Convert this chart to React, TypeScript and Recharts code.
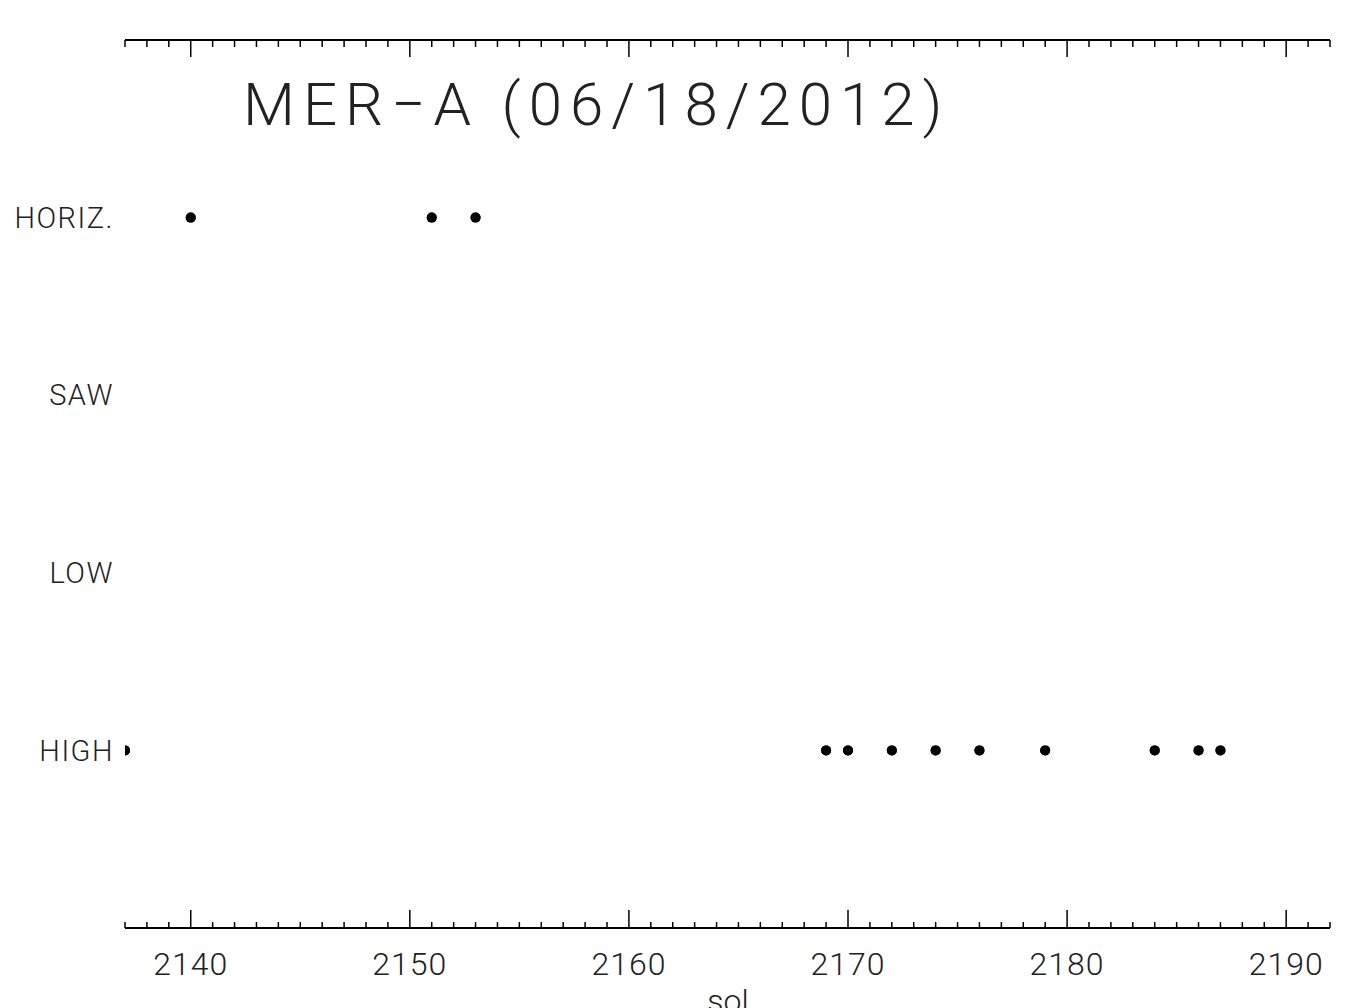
import { ScatterChart, Scatter, XAxis, YAxis } from "recharts";

// observing modes, bottom to top
const MODES = ["HIGH", "LOW", "SAW", "HORIZ."];
const HORIZ_SOLS = [2140, 2151, 2153];
const SAW_SOLS: number[] = [];
const LOW_SOLS: number[] = [];
const HIGH_SOLS = [2137, 2169, 2170, 2172, 2174, 2176, 2179, 2184, 2186, 2187];

const SOL_MIN = 2137;
const SOL_MAX = 2192;
const SOL_TICKS = Array.from({ length: SOL_MAX - SOL_MIN + 1 }, (_, i) => SOL_MIN + i);

const FONT = "Roboto, 'Liberation Sans', sans-serif";
const INK = "#000";
const TXT = "#222";

const toPoints = (sols: number[], level: number) => sols.map((sol) => ({ sol, level }));
const DATA = [
  ...toPoints(HIGH_SOLS, 1),
  ...toPoints(LOW_SOLS, 2),
  ...toPoints(SAW_SOLS, 3),
  ...toPoints(HORIZ_SOLS, 4),
];

function BottomTick(props: any) {
  const { x, y, payload } = props;
  const major = payload.value % 10 === 0;
  return (
    <g>
      <line x1={x} x2={x} y1={y} y2={y - (major ? 18 : 6)} stroke={INK} strokeWidth={1.5} />
      {major && (
        <text x={x} y={y + 47} textAnchor="middle" fontSize={32} fontFamily={FONT} fontWeight={300}
          fill={TXT} letterSpacing={1}>
          {payload.value}
        </text>
      )}
    </g>
  );
}

function TopTick(props: any) {
  const { x, y, payload } = props;
  const major = payload.value % 10 === 0;
  return <line x1={x} x2={x} y1={y} y2={y + (major ? 17 : 7)} stroke={INK} strokeWidth={1.5} />;
}

const dot = (p: any) => <circle cx={p.cx} cy={p.cy} r={5} fill={INK} />;

export default function App() {
  return (
    <div style={{ width: 1368, height: 1008, background: "#fff", overflow: "hidden" }}>
      <style>{"body{margin:0}"}</style>
      <ScatterChart width={1368} height={1008} margin={{ top: 0, right: 38, bottom: 0, left: 0 }}>
        <XAxis xAxisId="b" dataKey="sol" type="number" domain={[SOL_MIN, SOL_MAX]} allowDataOverflow
          ticks={SOL_TICKS} interval={0} tickSize={0} tickMargin={0} height={80}
          axisLine={{ stroke: INK, strokeWidth: 2 }} tickLine={false} tick={<BottomTick />} />
        <XAxis xAxisId="t" dataKey="sol" orientation="top" type="number" domain={[SOL_MIN, SOL_MAX]}
          allowDataOverflow ticks={SOL_TICKS} interval={0} tickSize={0} tickMargin={0} height={40}
          axisLine={{ stroke: INK, strokeWidth: 2 }} tickLine={false} tick={<TopTick />} />
        <YAxis dataKey="level" type="number" domain={[0, 5]} ticks={[1, 2, 3, 4]} interval={0} width={125}
          axisLine={false} tickLine={false} tickSize={0} tickMargin={11}
          tickFormatter={(v: number) => MODES[v - 1]}
          tick={{ fontSize: 29, fontFamily: FONT, fontWeight: 300, fill: TXT, letterSpacing: 1.5 }} />
        <Scatter xAxisId="b" data={DATA} isAnimationActive={false} shape={dot} />
        <Scatter xAxisId="t" data={DATA} isAnimationActive={false} shape={dot} />
        <text x={243} y={125} fontSize={60} fontFamily={FONT} fontWeight={300} fill={TXT} letterSpacing={8}>
          MER−A (06/18/2012)
        </text>
        <text x={728} y={1012} textAnchor="middle" fontSize={32} fontFamily={FONT} fontWeight={300} fill={TXT}>
          sol
        </text>
      </ScatterChart>
    </div>
  );
}
